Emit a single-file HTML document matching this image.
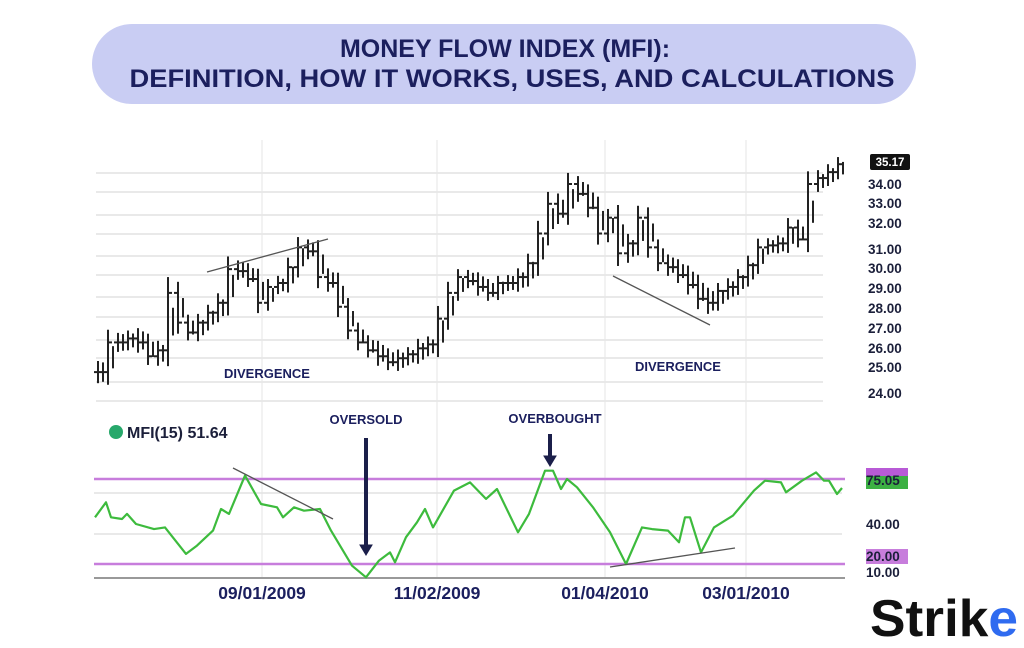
<!DOCTYPE html>
<html><head><meta charset="utf-8">
<style>
html,body{margin:0;padding:0;background:#fff;}
body{width:1024px;height:643px;overflow:hidden;font-family:"Liberation Sans",sans-serif;}
</style></head>
<body>
<svg id="chart" width="1024" height="643" viewBox="0 0 1024 643" xmlns="http://www.w3.org/2000/svg" font-family="Liberation Sans, sans-serif">
  <rect x="92" y="24" width="824" height="80" rx="40" fill="#c9cdf3"/>
  <text x="505" y="57" text-anchor="middle" font-size="25" font-weight="bold" fill="#1b1f5e">MONEY FLOW INDEX (MFI):</text>
  <text x="512" y="87" text-anchor="middle" font-size="25" font-weight="bold" fill="#1b1f5e" textLength="765" lengthAdjust="spacingAndGlyphs">DEFINITION, HOW IT WORKS, USES, AND CALCULATIONS</text>
  <g id="grid"></g>
  <g id="price"></g>
  <g id="mfi"></g>
  <g id="ann"></g>
  <text x="870" y="636" font-size="52" font-weight="bold" fill="#111" textLength="148" lengthAdjust="spacingAndGlyphs">Stri<tspan fill="#111">k</tspan><tspan fill="#2f6bf0">e</tspan></text>
</svg>
<script>
const priceDay = [];
for (let i = 0; i < 75; i++) priceDay.push(i);
const priceClose = [24.5,26,26,26.2,26,25.3,25.6,28.5,27,26.5,27,27.5,28,29.7,29.6,29.2,28,28.8,29,29.8,30.8,30.6,29.3,29,27.8,26.6,26,25.6,25.3,25,25.2,25.4,25.7,25.9,27.2,28.5,29.3,29.1,28.8,28.5,29,29,29.3,30,31.5,33,32.5,34,33.5,32.8,31.5,32.3,30.5,31,32.3,30.8,30,29.8,29.4,28.9,28.2,28,28.6,28.8,29.3,29.9,30.8,30.9,31,31.8,31.2,34,34.3,34.6,35];
const priceRange = [1.4,1.6,1.2,1.0,1.3,1.1,1.2,2.0,1.4,1.0,1.1,1.0,1.2,1.6,1.1,1.0,1.3,1.0,0.9,1.2,1.3,1.0,1.4,1.1,1.3,1.1,1.0,0.9,1.2,1.0,1.1,0.9,1.2,1.0,1.6,1.4,1.0,0.9,1.1,1.0,0.9,1.0,1.1,1.2,1.6,1.5,1.3,1.4,1.0,1.2,1.4,1.1,1.6,1.2,1.5,1.3,1.0,1.1,1.0,1.2,1.3,1.4,1.0,1.1,1.0,1.2,1.1,0.9,1.0,1.2,1.0,1.6,1.0,1.0,0.9];
const priceTicks = ["34.00","33.00","32.00","31.00","30.00","29.00","28.00","27.00","26.00","25.00","24.00"];
const priceTickY = [184,203,223,249,268,288,308,328,348,367,393];
const lastPrice = "35.17";
const mfiDay = [0,2.2,3.2,5.4,6.4,8.2,11.8,14,18.2,20.4,23.6,25.2,26.8,30,33.2,36.4,37.6,39.8,41.8,45,47.2,51.4,54.2,56.8,59,60,62.2,64.4,66,67.6,71.8,75,78.2,80.4,84.6,86.8,90,91.6,93.2,94.4,96.4,99.6,103,106.2,109.4,111.4,114.6,116.8,118,119,121.2,123.8,127.6,131.8,134,137.2,138.2,141.4,144.2,145.8,146.8,148.4,149.4];
const mfiValue = [50.2,59.9,50.2,49.1,52.4,45.9,42.6,43.7,26.5,31.9,41.6,55.6,52.4,77.2,58.8,56.7,50.2,56.7,54.5,55.6,41.6,18.9,11.4,22.2,27.5,21.1,37.3,47,55.6,43.7,67.5,72.8,62.1,68.5,40.5,52.4,80.4,80.4,68.5,75,69.6,56.7,40.5,20,43.7,42.6,41.6,34,50.2,50.2,27.5,43.7,51.3,67.5,73.9,72.8,66.4,73.9,79.3,73.9,73.9,65.3,69.2];
const dateLabels = ["09/01/2009","11/02/2009","01/04/2010","03/01/2010"];
const dateX = [262,437,605,746];

const NS = "http://www.w3.org/2000/svg";
function mk(tag, attrs, parent, txt) {
  const e = document.createElementNS(NS, tag);
  for (const k in attrs) e.setAttribute(k, attrs[k]);
  if (txt !== undefined) e.textContent = txt;
  parent.appendChild(e);
  return e;
}
const px = d => 98 + d * 10;
const py = p => 184 + (34 - p) * 19.8;
const mx = d => 95 + d * 5;
const my = v => 479 + (75 - v) * 1.545;

const grid = document.getElementById('grid');
[173,192,215,234,256,275,297,317,340,358,382,401].forEach(y => {
  const l = mk('line', {x1:96, x2:823, y1:y, y2:y, stroke:'#e2e2e2', 'stroke-width':1.5}, grid);
  
  
});
dateX.forEach(x => {
  const l = mk('line', {x1:x, x2:x, y1:140, y2:578, stroke:'#e6e6e6', 'stroke-width':1}, grid);
  
  
});
[493,534].forEach(y => {
  const l = mk('line', {x1:94, x2:842, y1:y, y2:y, stroke:'#e2e2e2', 'stroke-width':1.5}, grid);
  
  
});

const pg = document.getElementById('price');
priceDay.forEach((d, i) => {
  const x = px(d), c = priceClose[i], r = priceRange[i];
  const o = i > 0 ? priceClose[i-1] : c;
  const hi = Math.max(c, o) + r * 0.4, lo = Math.min(c, o) - r * 0.4;
  const g = mk('g', {stroke:'#222', 'stroke-width':2}, pg);
  
  
  mk('line', {x1:x, x2:x, y1:py(hi), y2:py(lo)}, g);
  mk('line', {x1:x-4, x2:x, y1:py(o), y2:py(o)}, g);
  mk('line', {x1:x, x2:x+4, y1:py(c), y2:py(c)}, g);
  const mid = (hi + lo) / 2;
  mk('line', {x1:x+5, x2:x+5, y1:py(mid + r*0.35), y2:py(mid - r*0.35)}, g);
});
priceTicks.forEach((t, i) => {
  const e = mk('text', {x:868, y:priceTickY[i]+5, 'font-size':13.5, 'font-weight':'bold', fill:'#1b1f3a'}, pg, t);
  
  
});
const lb = mk('rect', {x:870, y:154, width:40, height:16, fill:'#111', rx:2}, pg);


const lt = mk('text', {x:890, y:166, 'font-size':11.5, 'font-weight':'bold', fill:'#fff', 'text-anchor':'middle'}, pg, lastPrice);



const mg = document.getElementById('mfi');
[75,20].forEach(v => {
  const l = mk('line', {x1:94, x2:845, y1:my(v), y2:my(v), stroke:'#c77ddc', 'stroke-width':2.5}, mg);
  
  
});
const ax = mk('line', {x1:94, x2:845, y1:578, y2:578, stroke:'#999', 'stroke-width':2}, mg);


const pts = mfiDay.map((d, i) => mx(d).toFixed(1) + ',' + my(mfiValue[i]).toFixed(1)).join(' ');
const ml = mk('polyline', {points:pts, fill:'none', stroke:'#3dbb3d', 'stroke-width':2.2, 'stroke-linejoin':'round'}, mg);


dateLabels.forEach((t, i) => {
  const e = mk('text', {x:dateX[i], y:599, 'font-size':17.5, 'font-weight':'bold', fill:'#1b1f5e', 'text-anchor':'middle'}, mg, t);
  
  
});
const b1 = mk('rect', {x:866, y:468, width:42, height:8, fill:'#b85ad6'}, mg);


const b2 = mk('rect', {x:866, y:476, width:42, height:13, fill:'#3cb043'}, mg);


const b3 = mk('rect', {x:866, y:549, width:42, height:15, fill:'#c77ddc'}, mg);


[["75.05",485],["40.00",529],["20.00",561],["10.00",577]].forEach(a => {
  const e = mk('text', {x:866, y:a[1], 'font-size':13.5, 'font-weight':'bold', fill:'#1b1f3a'}, mg, a[0]);
  
  
});

const an = document.getElementById('ann');
[[207,272,328,239],[613,276,710,325],[233,468,333,519],[610,567,735,548]].forEach(s => {
  const l = mk('line', {x1:s[0], y1:s[1], x2:s[2], y2:s[3], stroke:'#555', 'stroke-width':1.3}, an);
  
  
});
[["DIVERGENCE",267,378],["DIVERGENCE",678,371],["OVERSOLD",366,424],["OVERBOUGHT",555,423]].forEach(a => {
  const e = mk('text', {x:a[1], y:a[2], 'font-size':13, 'font-weight':'bold', fill:'#1b1f5e', 'text-anchor':'middle'}, an, a[0]);
  
  
});
[[366,438,545],[550,434,456]].forEach(a => {
  const g = mk('g', {fill:'#1b1f4a', stroke:'#1b1f4a'}, an);
  
  
  mk('line', {x1:a[0], x2:a[0], y1:a[1], y2:a[2], 'stroke-width':4}, g);
  mk('polygon', {points:`${a[0]-6},${a[2]} ${a[0]+6},${a[2]} ${a[0]},${a[2]+10}`, 'stroke-width':1}, g);
});
const dot = mk('circle', {cx:116, cy:432, r:7, fill:'#27a86b'}, an);


const lg = mk('text', {x:127, y:438, 'font-size':16, 'font-weight':'bold', fill:'#1b1f3a'}, an, 'MFI(15) 51.64');


</script>
</body></html>
